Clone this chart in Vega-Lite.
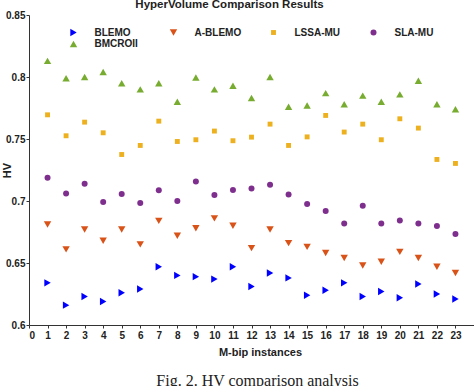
{
  "$schema": "https://vega.github.io/schema/vega-lite/v6.json",
  "autosize": {"type": "none"},
  "padding": {"left": 29, "top": 15, "right": 0, "bottom": 61},
  "width": 445,
  "height": 310,
  "background": "white",
  "title": {
    "text": "HyperVolume Comparison Results",
    "font": "Liberation Sans",
    "fontSize": 11.5,
    "fontWeight": "bold",
    "color": "#222",
    "anchor": "middle",
    "dx": -22,
    "offset": 0
  },
  "data": {
    "values": [
      {"i": 1, "s": "BLEMO", "v": 0.634}, {"i": 2, "s": "BLEMO", "v": 0.616}, {"i": 3, "s": "BLEMO", "v": 0.623}, {"i": 4, "s": "BLEMO", "v": 0.619}, {"i": 5, "s": "BLEMO", "v": 0.626}, {"i": 6, "s": "BLEMO", "v": 0.629}, {"i": 7, "s": "BLEMO", "v": 0.647}, {"i": 8, "s": "BLEMO", "v": 0.640}, {"i": 9, "s": "BLEMO", "v": 0.639}, {"i": 10, "s": "BLEMO", "v": 0.637}, {"i": 11, "s": "BLEMO", "v": 0.647}, {"i": 12, "s": "BLEMO", "v": 0.631}, {"i": 13, "s": "BLEMO", "v": 0.642}, {"i": 14, "s": "BLEMO", "v": 0.638}, {"i": 15, "s": "BLEMO", "v": 0.624}, {"i": 16, "s": "BLEMO", "v": 0.628}, {"i": 17, "s": "BLEMO", "v": 0.634}, {"i": 18, "s": "BLEMO", "v": 0.623}, {"i": 19, "s": "BLEMO", "v": 0.627}, {"i": 20, "s": "BLEMO", "v": 0.622}, {"i": 21, "s": "BLEMO", "v": 0.633}, {"i": 22, "s": "BLEMO", "v": 0.625}, {"i": 23, "s": "BLEMO", "v": 0.621},
      {"i": 1, "s": "A-BLEMO", "v": 0.681}, {"i": 2, "s": "A-BLEMO", "v": 0.661}, {"i": 3, "s": "A-BLEMO", "v": 0.677}, {"i": 4, "s": "A-BLEMO", "v": 0.668}, {"i": 5, "s": "A-BLEMO", "v": 0.677}, {"i": 6, "s": "A-BLEMO", "v": 0.665}, {"i": 7, "s": "A-BLEMO", "v": 0.684}, {"i": 8, "s": "A-BLEMO", "v": 0.672}, {"i": 9, "s": "A-BLEMO", "v": 0.678}, {"i": 10, "s": "A-BLEMO", "v": 0.686}, {"i": 11, "s": "A-BLEMO", "v": 0.680}, {"i": 12, "s": "A-BLEMO", "v": 0.662}, {"i": 13, "s": "A-BLEMO", "v": 0.677}, {"i": 14, "s": "A-BLEMO", "v": 0.666}, {"i": 15, "s": "A-BLEMO", "v": 0.663}, {"i": 16, "s": "A-BLEMO", "v": 0.658}, {"i": 17, "s": "A-BLEMO", "v": 0.654}, {"i": 18, "s": "A-BLEMO", "v": 0.648}, {"i": 19, "s": "A-BLEMO", "v": 0.651}, {"i": 20, "s": "A-BLEMO", "v": 0.659}, {"i": 21, "s": "A-BLEMO", "v": 0.654}, {"i": 22, "s": "A-BLEMO", "v": 0.647}, {"i": 23, "s": "A-BLEMO", "v": 0.642},
      {"i": 1, "s": "LSSA-MU", "v": 0.7695}, {"i": 2, "s": "LSSA-MU", "v": 0.7526}, {"i": 3, "s": "LSSA-MU", "v": 0.7636}, {"i": 4, "s": "LSSA-MU", "v": 0.755}, {"i": 5, "s": "LSSA-MU", "v": 0.7375}, {"i": 6, "s": "LSSA-MU", "v": 0.7448}, {"i": 7, "s": "LSSA-MU", "v": 0.7644}, {"i": 8, "s": "LSSA-MU", "v": 0.748}, {"i": 9, "s": "LSSA-MU", "v": 0.7494}, {"i": 10, "s": "LSSA-MU", "v": 0.7564}, {"i": 11, "s": "LSSA-MU", "v": 0.7486}, {"i": 12, "s": "LSSA-MU", "v": 0.7515}, {"i": 13, "s": "LSSA-MU", "v": 0.762}, {"i": 14, "s": "LSSA-MU", "v": 0.7448}, {"i": 15, "s": "LSSA-MU", "v": 0.7517}, {"i": 16, "s": "LSSA-MU", "v": 0.769}, {"i": 17, "s": "LSSA-MU", "v": 0.7556}, {"i": 18, "s": "LSSA-MU", "v": 0.762}, {"i": 19, "s": "LSSA-MU", "v": 0.7494}, {"i": 20, "s": "LSSA-MU", "v": 0.7663}, {"i": 21, "s": "LSSA-MU", "v": 0.7588}, {"i": 22, "s": "LSSA-MU", "v": 0.7335}, {"i": 23, "s": "LSSA-MU", "v": 0.7303},
      {"i": 1, "s": "SLA-MU", "v": 0.7187}, {"i": 2, "s": "SLA-MU", "v": 0.706}, {"i": 3, "s": "SLA-MU", "v": 0.7139}, {"i": 4, "s": "SLA-MU", "v": 0.6991}, {"i": 5, "s": "SLA-MU", "v": 0.7056}, {"i": 6, "s": "SLA-MU", "v": 0.6983}, {"i": 7, "s": "SLA-MU", "v": 0.7087}, {"i": 8, "s": "SLA-MU", "v": 0.700}, {"i": 9, "s": "SLA-MU", "v": 0.7157}, {"i": 10, "s": "SLA-MU", "v": 0.7048}, {"i": 11, "s": "SLA-MU", "v": 0.7088}, {"i": 12, "s": "SLA-MU", "v": 0.710}, {"i": 13, "s": "SLA-MU", "v": 0.7131}, {"i": 14, "s": "SLA-MU", "v": 0.7053}, {"i": 15, "s": "SLA-MU", "v": 0.6975}, {"i": 16, "s": "SLA-MU", "v": 0.6919}, {"i": 17, "s": "SLA-MU", "v": 0.6818}, {"i": 18, "s": "SLA-MU", "v": 0.6962}, {"i": 19, "s": "SLA-MU", "v": 0.6818}, {"i": 20, "s": "SLA-MU", "v": 0.6842}, {"i": 21, "s": "SLA-MU", "v": 0.6818}, {"i": 22, "s": "SLA-MU", "v": 0.6798}, {"i": 23, "s": "SLA-MU", "v": 0.6733},
      {"i": 1, "s": "BMCROII", "v": 0.813}, {"i": 2, "s": "BMCROII", "v": 0.799}, {"i": 3, "s": "BMCROII", "v": 0.800}, {"i": 4, "s": "BMCROII", "v": 0.804}, {"i": 5, "s": "BMCROII", "v": 0.795}, {"i": 6, "s": "BMCROII", "v": 0.790}, {"i": 7, "s": "BMCROII", "v": 0.795}, {"i": 8, "s": "BMCROII", "v": 0.780}, {"i": 9, "s": "BMCROII", "v": 0.7996}, {"i": 10, "s": "BMCROII", "v": 0.790}, {"i": 11, "s": "BMCROII", "v": 0.793}, {"i": 12, "s": "BMCROII", "v": 0.783}, {"i": 13, "s": "BMCROII", "v": 0.800}, {"i": 14, "s": "BMCROII", "v": 0.776}, {"i": 15, "s": "BMCROII", "v": 0.777}, {"i": 16, "s": "BMCROII", "v": 0.787}, {"i": 17, "s": "BMCROII", "v": 0.778}, {"i": 18, "s": "BMCROII", "v": 0.785}, {"i": 19, "s": "BMCROII", "v": 0.780}, {"i": 20, "s": "BMCROII", "v": 0.786}, {"i": 21, "s": "BMCROII", "v": 0.797}, {"i": 22, "s": "BMCROII", "v": 0.778}, {"i": 23, "s": "BMCROII", "v": 0.774}
    ]
  },
  "resolve": {"axis": {"x": "independent"}},
  "layer": [
    {
      "mark": {"type": "point", "filled": true, "opacity": 1, "strokeWidth": 0},
      "encoding": {
        "x": {
          "field": "i", "type": "quantitative",
          "scale": {"domain": [0, 24], "nice": false, "zero": false},
          "axis": {
            "orient": "bottom",
            "values": [0,1,2,3,4,5,6,7,8,9,10,11,12,13,14,15,16,17,18,19,20,21,22,23],
            "title": "M-bip instances",
            "titleX": 231, "titleY": 30, "titleAlign": "center", "titleBaseline": "alphabetic",
            "labelPadding": 2
          }
        },
        "y": {
          "field": "v", "type": "quantitative",
          "scale": {"domain": [0.6, 0.85], "nice": false, "zero": false},
          "axis": {
            "values": [0.6, 0.65, 0.7, 0.75, 0.8, 0.85],
            "format": ".2~f",
            "title": "HV",
            "titleX": -19, "titleY": 155, "titleAngle": -90, "titleAlign": "center", "titleBaseline": "alphabetic",
            "labelPadding": 1
          }
        },
        "color": {
          "field": "s", "type": "nominal",
          "scale": {"domain": ["BLEMO", "A-BLEMO", "LSSA-MU", "SLA-MU", "BMCROII"], "range": ["#0000ff", "#d95319", "#edb120", "#7e2f8e", "#77ac30"]},
          "legend": {
            "orient": "none", "legendX": 39.5, "legendY": 12.5, "direction": "horizontal", "columns": 4,
            "title": null, "gridAlign": "all", "columnPadding": 27, "rowPadding": 1.5,
            "labelOffset": 16, "symbolSize": 55, "labelFont": "Liberation Sans", "labelFontWeight": "bold", "labelFontSize": 10, "labelColor": "#222",
            "padding": 0
          }
        },
        "shape": {
          "field": "s", "type": "nominal",
          "scale": {"domain": ["BLEMO", "A-BLEMO", "LSSA-MU", "SLA-MU", "BMCROII"], "range": ["triangle-right", "triangle-down", "square", "circle", "triangle-up"]}
        },
        "size": {
          "field": "s", "type": "ordinal",
          "scale": {"type": "ordinal", "domain": ["BLEMO", "A-BLEMO", "LSSA-MU", "SLA-MU", "BMCROII"], "range": [55, 55, 24, 36, 55]},
          "legend": null
        }
      }
    },
    {
      "mark": {"type": "point", "opacity": 0},
      "encoding": {
        "x": {
          "field": "i", "type": "quantitative",
          "axis": {
            "orient": "bottom", "labels": false, "ticks": false, "domain": false, "grid": false,
            "title": "Fig. 2.  HV comparison analysis",
            "titleFont": "Liberation Serif", "titleFontSize": 16, "titleFontWeight": "normal", "titleColor": "#222",
            "titleX": 228, "titleY": 60, "titleAlign": "center", "titleBaseline": "alphabetic"
          }
        },
        "y": {"field": "v", "type": "quantitative"}
      }
    }
  ],
  "config": {
    "view": {"stroke": null},
    "axis": {
      "grid": false,
      "domainColor": "#333", "tickColor": "#333", "tickSize": 3,
      "labelFont": "Liberation Sans", "labelFontWeight": "bold", "labelFontSize": 10, "labelColor": "#222",
      "titleFont": "Liberation Sans", "titleFontWeight": "bold", "titleFontSize": 11, "titleColor": "#222"
    }
  }
}
